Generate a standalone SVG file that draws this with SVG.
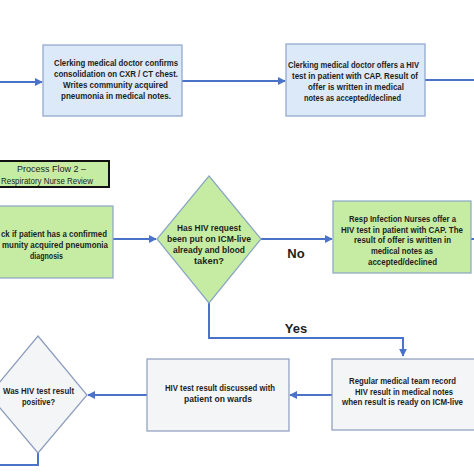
<svg xmlns="http://www.w3.org/2000/svg" width="474" height="474" viewBox="0 0 474 474">
<defs>
<marker id="ah" viewBox="0 0 10 10" refX="9" refY="5" markerWidth="4" markerHeight="4" orient="auto" markerUnits="strokeWidth">
<path d="M0,0 L10,5 L0,10 z" fill="#4a72c8"/>
</marker>
<style>
.t{font-family:"Liberation Sans",Arial,sans-serif;font-size:9.5px;font-weight:bold;fill:#1e1e1e;text-anchor:middle}
.s{text-anchor:start}
.r{font-weight:normal}
.big{font-size:13px}
.blue{fill:#dce9f8;stroke:#8ba4cc;stroke-width:1.2}
.green{fill:#c6eca4;stroke:#8aa6c4;stroke-width:1.2}
.gray{fill:#f3f5f7;stroke:#8c9cbc;stroke-width:1.2}
.c{fill:none;stroke:#4a72c8;stroke-width:2}
</style>
</defs>
<rect width="474" height="474" fill="#ffffff"/>
<g id="connectors">
<line class="c" x1="0" y1="82" x2="42" y2="82" marker-end="url(#ah)"/>
<line class="c" x1="182" y1="81" x2="285" y2="81" marker-end="url(#ah)"/>
<line class="c" x1="425" y1="80" x2="474" y2="80"/>
<line class="c" x1="113" y1="239" x2="156" y2="239" marker-end="url(#ah)"/>
<line class="c" x1="261" y1="239" x2="332" y2="239" marker-end="url(#ah)"/>
<line class="c" x1="471" y1="239" x2="474" y2="239"/>
<polyline class="c" points="209,303 209,338 403,338 403,356" marker-end="url(#ah)"/>
<line class="c" x1="332" y1="395" x2="290" y2="395" marker-end="url(#ah)"/>
<line class="c" x1="147" y1="395" x2="88" y2="395" marker-end="url(#ah)"/>
<polyline class="c" points="38,453 38,465 0,465"/>
<text class="t big" x="296" y="258">No</text>
<text class="t big" x="296" y="333">Yes</text>
</g>
<g id="box1">
<rect class="blue" x="43" y="45" width="139" height="71"/>
<text class="t" x="116" y="65.5" textLength="124" lengthAdjust="spacingAndGlyphs">Clerking medical doctor confirms</text>
<text class="t" x="116" y="76.5" textLength="124" lengthAdjust="spacingAndGlyphs">consolidation on  CXR / CT chest.</text>
<text class="t" x="115.5" y="87.5" textLength="105" lengthAdjust="spacingAndGlyphs">Writes community acquired</text>
<text class="t" x="116" y="99" textLength="110" lengthAdjust="spacingAndGlyphs">pneumonia in medical notes.</text>
</g>
<g id="box2">
<rect class="blue" x="286" y="44" width="139" height="72"/>
<text class="t" x="353.5" y="67.5" textLength="131" lengthAdjust="spacingAndGlyphs">Clerking medical doctor offers a HIV</text>
<text class="t" x="355" y="78.5" textLength="126" lengthAdjust="spacingAndGlyphs">test in patient with CAP. Result of</text>
<text class="t" x="356" y="89.5" textLength="96" lengthAdjust="spacingAndGlyphs">offer is written in medical</text>
<text class="t" x="352.5" y="100.5" textLength="97" lengthAdjust="spacingAndGlyphs">notes as accepted/declined</text>
</g>
<g id="label-process-flow-2">
<rect x="-10" y="161" width="119" height="26" fill="#c6eca4" stroke="#111111" stroke-width="2"/>
<text class="t r" x="51.5" y="171.5" textLength="69" lengthAdjust="spacingAndGlyphs">Process Flow 2 –</text>
<text class="t r s" x="1" y="183.5" textLength="92" lengthAdjust="spacingAndGlyphs">Respiratory Nurse Review</text>
</g>
<g id="check-cap">
<rect class="green" x="-20" y="206" width="133" height="72"/>
<text class="t s" x="1" y="236.5" textLength="106" lengthAdjust="spacingAndGlyphs">ck if patient has a confirmed</text>
<text class="t s" x="2" y="247.5" textLength="106" lengthAdjust="spacingAndGlyphs">munity acquired pneumonia</text>
<text class="t" x="46.5" y="259" textLength="33" lengthAdjust="spacingAndGlyphs">diagnosis</text>
</g>
<g id="decision-hiv-request">
<polygon class="green" points="209,176 261,239 209,303 157,239"/>
<text class="t" x="209" y="230.5" textLength="64" lengthAdjust="spacingAndGlyphs">Has HIV request</text>
<text class="t" x="209" y="242" textLength="84" lengthAdjust="spacingAndGlyphs">been put on ICM-live</text>
<text class="t" x="209" y="253" textLength="72" lengthAdjust="spacingAndGlyphs">already and blood</text>
<text class="t" x="209" y="264" textLength="30" lengthAdjust="spacingAndGlyphs">taken?</text>
</g>
<g id="resp-nurses-offer">
<rect class="green" x="333" y="201" width="138" height="72"/>
<text class="t" x="402.5" y="221.5" textLength="107" lengthAdjust="spacingAndGlyphs">Resp Infection Nurses offer a</text>
<text class="t" x="402" y="232.5" textLength="122" lengthAdjust="spacingAndGlyphs">HIV test in patient with CAP. The</text>
<text class="t" x="402.5" y="243" textLength="97" lengthAdjust="spacingAndGlyphs">result of offer is written in</text>
<text class="t" x="402" y="253.5" textLength="62" lengthAdjust="spacingAndGlyphs">medical notes as</text>
<text class="t" x="402.5" y="264.5" textLength="69" lengthAdjust="spacingAndGlyphs">accepted/declined</text>
</g>
<g id="regular-team-record">
<rect class="gray" x="332" y="359" width="150" height="71"/>
<text class="t" x="402.5" y="383.5" textLength="107" lengthAdjust="spacingAndGlyphs">Regular medical team record</text>
<text class="t" x="404" y="394.5" textLength="98" lengthAdjust="spacingAndGlyphs">HIV result in medical notes</text>
<text class="t" x="402.5" y="405" textLength="121" lengthAdjust="spacingAndGlyphs">when result is ready on ICM-live</text>
</g>
<g id="result-discussed">
<rect class="gray" x="147" y="359" width="142" height="72"/>
<text class="t" x="220" y="390.5" textLength="110" lengthAdjust="spacingAndGlyphs">HIV test result discussed with</text>
<text class="t" x="218" y="401.5" textLength="68" lengthAdjust="spacingAndGlyphs">patient on wards</text>
</g>
<g id="decision-positive">
<polygon class="gray" points="38,336 87,395 38,453 -11,395"/>
<text class="t" x="38.5" y="393.5" textLength="71" lengthAdjust="spacingAndGlyphs">Was HIV test result</text>
<text class="t" x="38.5" y="404.5" textLength="33" lengthAdjust="spacingAndGlyphs">positive?</text>
</g>
</svg>
